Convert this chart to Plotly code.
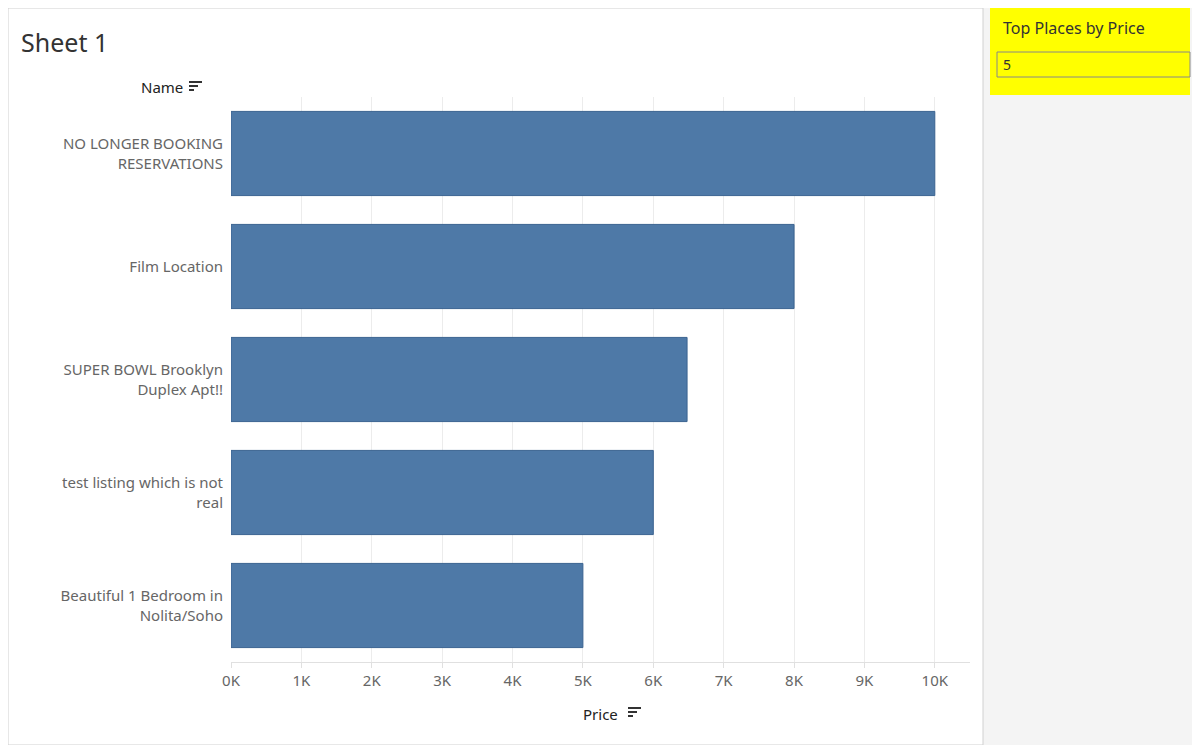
import plotly.graph_objects as go

names = ["NO LONGER BOOKING<br>RESERVATIONS", "Film Location", "SUPER BOWL Brooklyn<br>Duplex Apt!!",
         "test listing which is not<br>real", "Beautiful 1 Bedroom in<br>Nolita/Soho"]
prices = [10000, 8000, 6480, 6000, 5000]
tickvals = [0, 1000, 2000, 3000, 4000, 5000, 6000, 7000, 8000, 9000, 10000]
ticktext = ["0K", "1K", "2K", "3K", "4K", "5K", "6K", "7K", "8K", "9K", "10K"]

OFF = 8  # page body margin
W, H = 1200 - OFF, 745 - OFF
L, R, T, B = 231 - OFF, 1200 - 970, 97 - OFF, 745 - 662
def px(x): return (x - OFF - L) / (W - L - R)
def py(y): return 1 - (y - OFF - T) / (H - T - B)

fig = go.Figure(go.Bar(x=prices, y=names, orientation="h", width=0.745,
                       marker=dict(color="#4e79a7", line=dict(color="#3b6391", width=1))))
shapes = [
    dict(type="rect", xref="paper", yref="paper", x0=px(8), x1=px(983), y0=py(745), y1=py(8),
         fillcolor="white", line=dict(color="#d0d0d0", width=1), layer="below"),
    dict(type="rect", xref="paper", yref="paper", x0=px(990), x1=px(1190), y0=py(95), y1=py(8),
         fillcolor="#ffff00", line=dict(width=0), layer="below"),
    dict(type="rect", xref="paper", yref="paper", x0=px(997), x1=px(1190), y0=py(77), y1=py(52),
         fillcolor="#ffff00", line=dict(color="#888", width=1), layer="below"),
]
for (cx, cy) in [(189, 82), (628, 708)]:
    for i, w in enumerate([13, 9, 5]):
        shapes.append(dict(type="line", xref="paper", yref="paper", x0=px(cx), x1=px(cx + w),
                           y0=py(cy + i * 4), y1=py(cy + i * 4), line=dict(color="#333", width=2)))
fig.update_layout(
    width=W, height=H, margin=dict(l=L, r=R, t=T, b=B),
    paper_bgcolor="#f4f4f4", plot_bgcolor="white",
    font=dict(family="Noto Sans, Lato", size=15, color="#666"),
    showlegend=False, shapes=shapes,
    xaxis=dict(range=[0, 10500], tickvals=tickvals, ticktext=ticktext, showgrid=True,
               gridcolor="#ececec", zeroline=False, showline=True, linecolor="#e0e0e0",
               ticks="outside", ticklen=5, tickcolor="#e0e0e0", fixedrange=True),
    yaxis=dict(categoryorder="array", categoryarray=names[::-1], range=[-0.5, 4.5],
               showgrid=False, ticks="", ticklen=0, ticklabelstandoff=7, fixedrange=True),
    annotations=[
        dict(text="Sheet 1", xref="paper", yref="paper", x=px(19), y=py(42), xanchor="left",
             yanchor="middle", showarrow=False, font=dict(size=25, color="#333")),
        dict(text="Name", xref="paper", yref="paper", x=px(185), y=py(87), xanchor="right",
             yanchor="middle", showarrow=False, font=dict(size=15, color="#222")),
        dict(text="Price", xref="paper", yref="paper", x=px(620), y=py(714), xanchor="right",
             yanchor="middle", showarrow=False, font=dict(size=15, color="#222")),
        dict(text="Top Places by Price", xref="paper", yref="paper", x=px(1001), y=py(28),
             xanchor="left", yanchor="middle", showarrow=False, font=dict(size=16, color="#333")),
        dict(text="5", xref="paper", yref="paper", x=px(1001), y=py(64), xanchor="left",
             yanchor="middle", showarrow=False, font=dict(size=14, color="#333")),
    ],
)
fig.write_html("out.html")
